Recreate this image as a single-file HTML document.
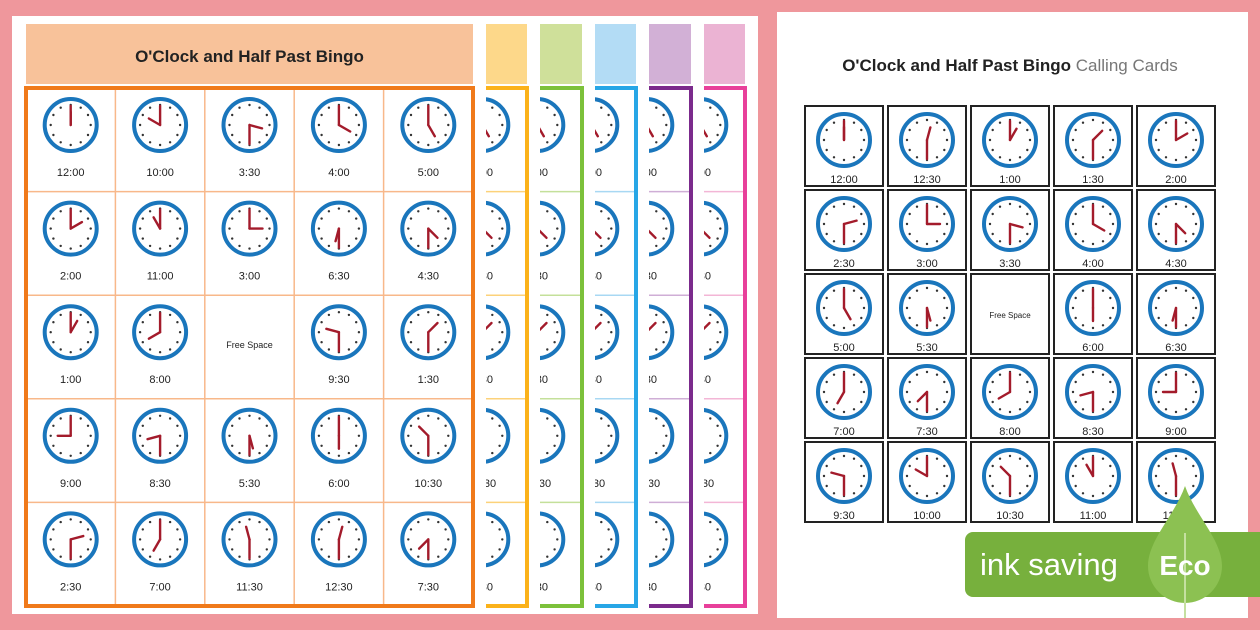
<!DOCTYPE html>
<html><head><meta charset="utf-8"><style>
html,body{margin:0;padding:0;background:#ef979c;}
svg{display:block;font-family:"Liberation Sans",sans-serif;}
</style></head><body>
<svg width="1260" height="630" viewBox="0 0 1260 630" xmlns="http://www.w3.org/2000/svg">
<defs>
<g id="f">
<circle r="26" fill="#fff" stroke="#1a76bc" stroke-width="4"/>
<g fill="#333" stroke="none">
<circle cx="0" cy="-20" r="1.2"/><circle cx="10" cy="-17.3" r="1.2"/><circle cx="17.3" cy="-10" r="1.2"/><circle cx="20" cy="0" r="1.2"/><circle cx="17.3" cy="10" r="1.2"/><circle cx="10" cy="17.3" r="1.2"/><circle cx="0" cy="20" r="1.2"/><circle cx="-10" cy="17.3" r="1.2"/><circle cx="-17.3" cy="10" r="1.2"/><circle cx="-20" cy="0" r="1.2"/><circle cx="-17.3" cy="-10" r="1.2"/><circle cx="-10" cy="-17.3" r="1.2"/>
</g>
</g>
<g id="lines">
<rect x="26" y="88" width="447" height="518" fill="#fff"/>
<path d="M115.4 88V606M204.8 88V606M294.2 88V606M383.6 88V606M26 191.6H473M26 295.2H473M26 398.8H473M26 502.4H473" fill="none" stroke-width="1.5"/>
</g>
<g id="lg">
<g stroke="#a31b2b" stroke-width="2.4" stroke-linecap="round">
<g transform="translate(70.7,125)"><use href="#f"/><path d="M0 0V-13" transform="rotate(0)"/><path d="M0 0V-19" transform="rotate(0)"/></g>
<g transform="translate(160.1,125)"><use href="#f"/><path d="M0 0V-13" transform="rotate(300)"/><path d="M0 0V-19" transform="rotate(0)"/></g>
<g transform="translate(249.5,125)"><use href="#f"/><path d="M0 0V-13" transform="rotate(105)"/><path d="M0 0V-19" transform="rotate(180)"/></g>
<g transform="translate(338.9,125)"><use href="#f"/><path d="M0 0V-13" transform="rotate(120)"/><path d="M0 0V-19" transform="rotate(0)"/></g>
<g transform="translate(428.3,125)"><use href="#f"/><path d="M0 0V-13" transform="rotate(150)"/><path d="M0 0V-19" transform="rotate(0)"/></g>
<g transform="translate(70.7,228.6)"><use href="#f"/><path d="M0 0V-13" transform="rotate(60)"/><path d="M0 0V-19" transform="rotate(0)"/></g>
<g transform="translate(160.1,228.6)"><use href="#f"/><path d="M0 0V-13" transform="rotate(330)"/><path d="M0 0V-19" transform="rotate(0)"/></g>
<g transform="translate(249.5,228.6)"><use href="#f"/><path d="M0 0V-13" transform="rotate(90)"/><path d="M0 0V-19" transform="rotate(0)"/></g>
<g transform="translate(338.9,228.6)"><use href="#f"/><path d="M0 0V-13" transform="rotate(195)"/><path d="M0 0V-19" transform="rotate(180)"/></g>
<g transform="translate(428.3,228.6)"><use href="#f"/><path d="M0 0V-13" transform="rotate(135)"/><path d="M0 0V-19" transform="rotate(180)"/></g>
<g transform="translate(70.7,332.2)"><use href="#f"/><path d="M0 0V-13" transform="rotate(30)"/><path d="M0 0V-19" transform="rotate(0)"/></g>
<g transform="translate(160.1,332.2)"><use href="#f"/><path d="M0 0V-13" transform="rotate(240)"/><path d="M0 0V-19" transform="rotate(0)"/></g>
<g transform="translate(338.9,332.2)"><use href="#f"/><path d="M0 0V-13" transform="rotate(285)"/><path d="M0 0V-19" transform="rotate(180)"/></g>
<g transform="translate(428.3,332.2)"><use href="#f"/><path d="M0 0V-13" transform="rotate(45)"/><path d="M0 0V-19" transform="rotate(180)"/></g>
<g transform="translate(70.7,435.8)"><use href="#f"/><path d="M0 0V-13" transform="rotate(270)"/><path d="M0 0V-19" transform="rotate(0)"/></g>
<g transform="translate(160.1,435.8)"><use href="#f"/><path d="M0 0V-13" transform="rotate(255)"/><path d="M0 0V-19" transform="rotate(180)"/></g>
<g transform="translate(249.5,435.8)"><use href="#f"/><path d="M0 0V-13" transform="rotate(165)"/><path d="M0 0V-19" transform="rotate(180)"/></g>
<g transform="translate(338.9,435.8)"><use href="#f"/><path d="M0 0V-13" transform="rotate(180)"/><path d="M0 0V-19" transform="rotate(0)"/></g>
<g transform="translate(428.3,435.8)"><use href="#f"/><path d="M0 0V-13" transform="rotate(315)"/><path d="M0 0V-19" transform="rotate(180)"/></g>
<g transform="translate(70.7,539.4)"><use href="#f"/><path d="M0 0V-13" transform="rotate(75)"/><path d="M0 0V-19" transform="rotate(180)"/></g>
<g transform="translate(160.1,539.4)"><use href="#f"/><path d="M0 0V-13" transform="rotate(210)"/><path d="M0 0V-19" transform="rotate(0)"/></g>
<g transform="translate(249.5,539.4)"><use href="#f"/><path d="M0 0V-13" transform="rotate(345)"/><path d="M0 0V-19" transform="rotate(180)"/></g>
<g transform="translate(338.9,539.4)"><use href="#f"/><path d="M0 0V-13" transform="rotate(15)"/><path d="M0 0V-19" transform="rotate(180)"/></g>
<g transform="translate(428.3,539.4)"><use href="#f"/><path d="M0 0V-13" transform="rotate(225)"/><path d="M0 0V-19" transform="rotate(180)"/></g>
</g>
<g font-size="11" fill="#222" text-anchor="middle">
<text x="70.7" y="176">12:00</text><text x="160.1" y="176">10:00</text><text x="249.5" y="176">3:30</text><text x="338.9" y="176">4:00</text><text x="428.3" y="176">5:00</text>
<text x="70.7" y="279.6">2:00</text><text x="160.1" y="279.6">11:00</text><text x="249.5" y="279.6">3:00</text><text x="338.9" y="279.6">6:30</text><text x="428.3" y="279.6">4:30</text>
<text x="70.7" y="383.2">1:00</text><text x="160.1" y="383.2">8:00</text><text x="249.5" y="348" font-size="9">Free Space</text><text x="338.9" y="383.2">9:30</text><text x="428.3" y="383.2">1:30</text>
<text x="70.7" y="486.8">9:00</text><text x="160.1" y="486.8">8:30</text><text x="249.5" y="486.8">5:30</text><text x="338.9" y="486.8">6:00</text><text x="428.3" y="486.8">10:30</text>
<text x="70.7" y="590.4">2:30</text><text x="160.1" y="590.4">7:00</text><text x="249.5" y="590.4">11:30</text><text x="338.9" y="590.4">12:30</text><text x="428.3" y="590.4">7:30</text>
</g>
</g>
</defs>

<g transform="translate(272,0)"><rect x="12" y="16" width="474" height="598" fill="#fff"/><rect x="26" y="24" width="447" height="60" fill="#ebb3d3"/><use href="#lines" stroke="#f3b6d6"/><rect x="26" y="88" width="447" height="518" fill="none" stroke="#e8409a" stroke-width="4"/><use href="#lg"/></g>
<g transform="translate(218,0)"><rect x="12" y="16" width="474" height="598" fill="#fff"/><rect x="26" y="24" width="447" height="60" fill="#d2b0d6"/><use href="#lines" stroke="#cfaed6"/><rect x="26" y="88" width="447" height="518" fill="none" stroke="#7b2a8c" stroke-width="4"/><use href="#lg"/></g>
<g transform="translate(163,0)"><rect x="12" y="16" width="474" height="598" fill="#fff"/><rect x="26" y="24" width="447" height="60" fill="#b3dcf5"/><use href="#lines" stroke="#a8d8f3"/><rect x="26" y="88" width="447" height="518" fill="none" stroke="#27a6e6" stroke-width="4"/><use href="#lg"/></g>
<g transform="translate(109,0)"><rect x="12" y="16" width="474" height="598" fill="#fff"/><rect x="26" y="24" width="447" height="60" fill="#cfe09a"/><use href="#lines" stroke="#c4e09a"/><rect x="26" y="88" width="447" height="518" fill="none" stroke="#7cc13a" stroke-width="4"/><use href="#lg"/></g>
<g transform="translate(54,0)"><rect x="12" y="16" width="474" height="598" fill="#fff"/><rect x="26" y="24" width="447" height="60" fill="#fdd88a"/><use href="#lines" stroke="#fcd27a"/><rect x="26" y="88" width="447" height="518" fill="none" stroke="#fbb21a" stroke-width="4"/><use href="#lg"/></g>
<g><rect x="12" y="16" width="474" height="598" fill="#fff"/><rect x="26" y="24" width="447" height="60" fill="#f8c29a"/>
<text x="249.5" y="62" text-anchor="middle" font-size="17" font-weight="bold" fill="#222">O'Clock and Half Past Bingo</text>
<use href="#lines" stroke="#f8b88a"/><rect x="26" y="88" width="447" height="518" fill="none" stroke="#f07a1a" stroke-width="4"/><use href="#lg"/></g>

<rect x="777" y="12" width="471" height="606" fill="#fff"/>
<text x="1010" y="71" text-anchor="middle" font-size="17" fill="#222"><tspan font-weight="bold">O'Clock and Half Past Bingo</tspan><tspan fill="#777"> Calling Cards</tspan></text>
<g fill="#fff" stroke="#222" stroke-width="2">
<rect x="805" y="106" width="78" height="80"/><rect x="888" y="106" width="78" height="80"/><rect x="971" y="106" width="78" height="80"/><rect x="1054" y="106" width="78" height="80"/><rect x="1137" y="106" width="78" height="80"/>
<rect x="805" y="190" width="78" height="80"/><rect x="888" y="190" width="78" height="80"/><rect x="971" y="190" width="78" height="80"/><rect x="1054" y="190" width="78" height="80"/><rect x="1137" y="190" width="78" height="80"/>
<rect x="805" y="274" width="78" height="80"/><rect x="888" y="274" width="78" height="80"/><rect x="971" y="274" width="78" height="80"/><rect x="1054" y="274" width="78" height="80"/><rect x="1137" y="274" width="78" height="80"/>
<rect x="805" y="358" width="78" height="80"/><rect x="888" y="358" width="78" height="80"/><rect x="971" y="358" width="78" height="80"/><rect x="1054" y="358" width="78" height="80"/><rect x="1137" y="358" width="78" height="80"/>
<rect x="805" y="442" width="78" height="80"/><rect x="888" y="442" width="78" height="80"/><rect x="971" y="442" width="78" height="80"/><rect x="1054" y="442" width="78" height="80"/><rect x="1137" y="442" width="78" height="80"/>
</g>
<g stroke="#a31b2b" stroke-width="2.4" stroke-linecap="round">
<g transform="translate(844,140)"><use href="#f"/><path d="M0 0V-13" transform="rotate(0)"/><path d="M0 0V-19" transform="rotate(0)"/></g>
<g transform="translate(927,140)"><use href="#f"/><path d="M0 0V-13" transform="rotate(15)"/><path d="M0 0V-19" transform="rotate(180)"/></g>
<g transform="translate(1010,140)"><use href="#f"/><path d="M0 0V-13" transform="rotate(30)"/><path d="M0 0V-19" transform="rotate(0)"/></g>
<g transform="translate(1093,140)"><use href="#f"/><path d="M0 0V-13" transform="rotate(45)"/><path d="M0 0V-19" transform="rotate(180)"/></g>
<g transform="translate(1176,140)"><use href="#f"/><path d="M0 0V-13" transform="rotate(60)"/><path d="M0 0V-19" transform="rotate(0)"/></g>
<g transform="translate(844,224)"><use href="#f"/><path d="M0 0V-13" transform="rotate(75)"/><path d="M0 0V-19" transform="rotate(180)"/></g>
<g transform="translate(927,224)"><use href="#f"/><path d="M0 0V-13" transform="rotate(90)"/><path d="M0 0V-19" transform="rotate(0)"/></g>
<g transform="translate(1010,224)"><use href="#f"/><path d="M0 0V-13" transform="rotate(105)"/><path d="M0 0V-19" transform="rotate(180)"/></g>
<g transform="translate(1093,224)"><use href="#f"/><path d="M0 0V-13" transform="rotate(120)"/><path d="M0 0V-19" transform="rotate(0)"/></g>
<g transform="translate(1176,224)"><use href="#f"/><path d="M0 0V-13" transform="rotate(135)"/><path d="M0 0V-19" transform="rotate(180)"/></g>
<g transform="translate(844,308)"><use href="#f"/><path d="M0 0V-13" transform="rotate(150)"/><path d="M0 0V-19" transform="rotate(0)"/></g>
<g transform="translate(927,308)"><use href="#f"/><path d="M0 0V-13" transform="rotate(165)"/><path d="M0 0V-19" transform="rotate(180)"/></g>
<g transform="translate(1093,308)"><use href="#f"/><path d="M0 0V-13" transform="rotate(180)"/><path d="M0 0V-19" transform="rotate(0)"/></g>
<g transform="translate(1176,308)"><use href="#f"/><path d="M0 0V-13" transform="rotate(195)"/><path d="M0 0V-19" transform="rotate(180)"/></g>
<g transform="translate(844,392)"><use href="#f"/><path d="M0 0V-13" transform="rotate(210)"/><path d="M0 0V-19" transform="rotate(0)"/></g>
<g transform="translate(927,392)"><use href="#f"/><path d="M0 0V-13" transform="rotate(225)"/><path d="M0 0V-19" transform="rotate(180)"/></g>
<g transform="translate(1010,392)"><use href="#f"/><path d="M0 0V-13" transform="rotate(240)"/><path d="M0 0V-19" transform="rotate(0)"/></g>
<g transform="translate(1093,392)"><use href="#f"/><path d="M0 0V-13" transform="rotate(255)"/><path d="M0 0V-19" transform="rotate(180)"/></g>
<g transform="translate(1176,392)"><use href="#f"/><path d="M0 0V-13" transform="rotate(270)"/><path d="M0 0V-19" transform="rotate(0)"/></g>
<g transform="translate(844,476)"><use href="#f"/><path d="M0 0V-13" transform="rotate(285)"/><path d="M0 0V-19" transform="rotate(180)"/></g>
<g transform="translate(927,476)"><use href="#f"/><path d="M0 0V-13" transform="rotate(300)"/><path d="M0 0V-19" transform="rotate(0)"/></g>
<g transform="translate(1010,476)"><use href="#f"/><path d="M0 0V-13" transform="rotate(315)"/><path d="M0 0V-19" transform="rotate(180)"/></g>
<g transform="translate(1093,476)"><use href="#f"/><path d="M0 0V-13" transform="rotate(330)"/><path d="M0 0V-19" transform="rotate(0)"/></g>
<g transform="translate(1176,476)"><use href="#f"/><path d="M0 0V-13" transform="rotate(345)"/><path d="M0 0V-19" transform="rotate(180)"/></g>
</g>
<g font-size="11" fill="#222" text-anchor="middle">
<text x="844" y="183">12:00</text><text x="927" y="183">12:30</text><text x="1010" y="183">1:00</text><text x="1093" y="183">1:30</text><text x="1176" y="183">2:00</text>
<text x="844" y="267">2:30</text><text x="927" y="267">3:00</text><text x="1010" y="267">3:30</text><text x="1093" y="267">4:00</text><text x="1176" y="267">4:30</text>
<text x="844" y="351">5:00</text><text x="927" y="351">5:30</text><text x="1010" y="318" font-size="8">Free Space</text><text x="1093" y="351">6:00</text><text x="1176" y="351">6:30</text>
<text x="844" y="435">7:00</text><text x="927" y="435">7:30</text><text x="1010" y="435">8:00</text><text x="1093" y="435">8:30</text><text x="1176" y="435">9:00</text>
<text x="844" y="519">9:30</text><text x="927" y="519">10:00</text><text x="1010" y="519">10:30</text><text x="1093" y="519">11:00</text><text x="1176" y="519">11:30</text>
</g>

<rect x="965" y="532" width="310" height="65" rx="8" fill="#77b03d"/>
<text x="980" y="575" font-size="31" fill="#fff">ink saving</text>
<path d="M1185 486 C1175 515 1148 540 1148 566 A37 37 0 0 0 1222 566 C1222 540 1195 515 1185 486Z" fill="#8cc152"/>
<line x1="1185" y1="533" x2="1185" y2="618" stroke="#c5e0a0" stroke-width="2"/>
<text x="1185" y="575" text-anchor="middle" font-size="28" font-weight="bold" fill="#fff">Eco</text>
</svg>
</body></html>
